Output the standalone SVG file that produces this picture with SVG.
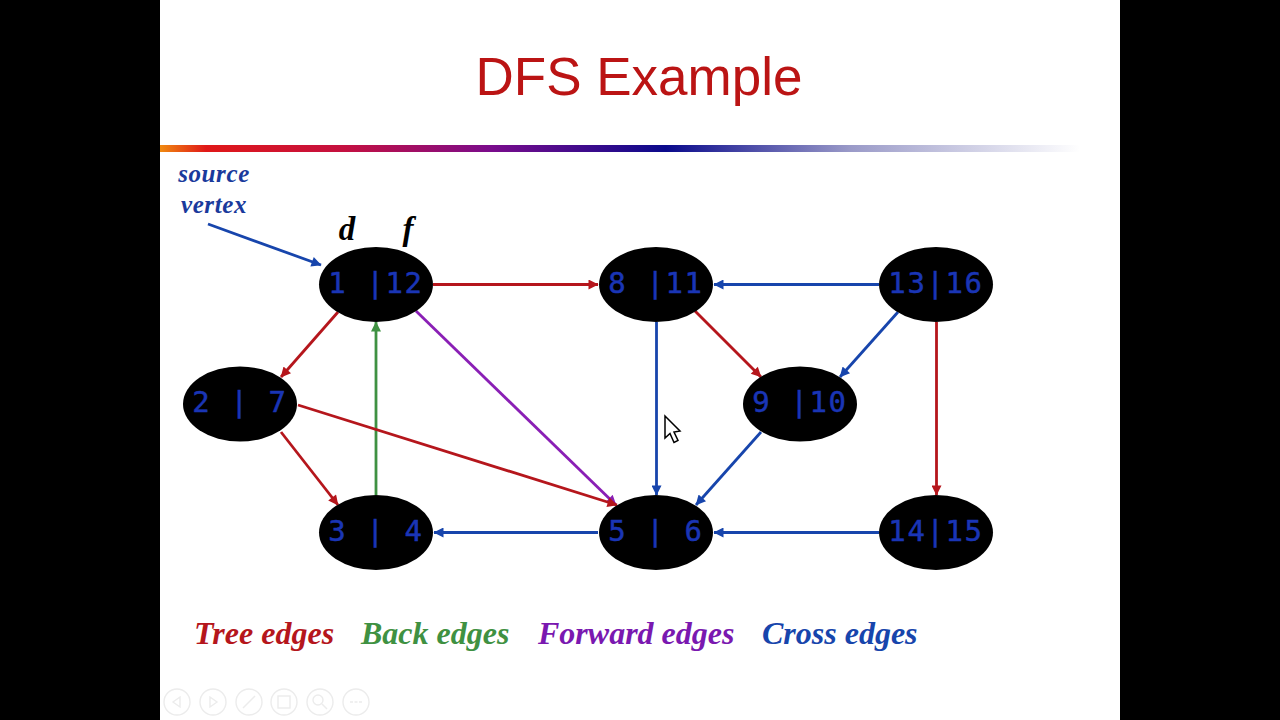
<svg xmlns="http://www.w3.org/2000/svg" width="1280" height="720" viewBox="0 0 1280 720">
<style>
.nd{fill:#000}
.nt{font-family:"DejaVu Sans Mono","Liberation Mono",monospace;font-size:29px;letter-spacing:1.6px;fill:#1a35b5;stroke:#1a35b5;stroke-width:0.5;text-anchor:middle;font-weight:400}
.lg{font-family:"Liberation Serif",serif;font-style:italic;font-weight:700;font-size:32px}
.e{fill:none;stroke-width:2.8}
.r{stroke:#b5161c}.b{stroke:#1745ac}.g{stroke:#3f9142}.p{stroke:#8a1fb5}
.ctl{fill:none;stroke:#ececec;stroke-width:1.4}
</style>
<defs>
<linearGradient id="bar" x1="0" x2="1" y1="0" y2="0">
<stop offset="0" stop-color="#f08a10"/><stop offset="0.05" stop-color="#e01818"/><stop offset="0.2" stop-color="#c41040"/><stop offset="0.36" stop-color="#7a0c8c"/><stop offset="0.55" stop-color="#0a0a8c"/><stop offset="0.75" stop-color="#9a9ac8"/><stop offset="1" stop-color="#ffffff"/>
</linearGradient>
<marker id="mr" viewBox="0 0 10 10" refX="9.5" refY="5" markerWidth="12" markerHeight="10" markerUnits="userSpaceOnUse" orient="auto"><path d="M0 0L10 5L0 10z" fill="#b5161c"/></marker>
<marker id="mb" viewBox="0 0 10 10" refX="9.5" refY="5" markerWidth="12" markerHeight="10" markerUnits="userSpaceOnUse" orient="auto"><path d="M0 0L10 5L0 10z" fill="#1745ac"/></marker>
<marker id="mg" viewBox="0 0 10 10" refX="9.5" refY="5" markerWidth="12" markerHeight="10" markerUnits="userSpaceOnUse" orient="auto"><path d="M0 0L10 5L0 10z" fill="#3f9142"/></marker>
<marker id="mp" viewBox="0 0 10 10" refX="9.5" refY="5" markerWidth="12" markerHeight="10" markerUnits="userSpaceOnUse" orient="auto"><path d="M0 0L10 5L0 10z" fill="#8a1fb5"/></marker>
</defs>
<rect width="1280" height="720" fill="#000"/>
<rect x="160" width="960" height="720" fill="#fff"/>
<text x="639" y="95" font-family="Liberation Sans, sans-serif" font-size="53" fill="#bb1414" text-anchor="middle">DFS Example</text>
<rect x="160" y="145" width="920" height="7" fill="url(#bar)"/>
<g id="connectors">
<path class="e b" marker-end="url(#mb)" d="M208 224L321 265"/>
<path class="e r" marker-end="url(#mr)" d="M433 284.500H598"/>
<path class="e r" marker-end="url(#mr)" d="M338 312L281 377"/>
<path class="e g" marker-end="url(#mg)" d="M376 495V322"/>
<path class="e p" marker-end="url(#mp)" d="M416 311L616 505"/>
<path class="e r" marker-end="url(#mr)" d="M298 405L617 505"/>
<path class="e r" marker-end="url(#mr)" d="M281 432L338 505"/>
<path class="e b" marker-end="url(#mb)" d="M598 532.500H434"/>
<path class="e b" marker-end="url(#mb)" d="M656.500 322V495"/>
<path class="e r" marker-end="url(#mr)" d="M695 311L761 377"/>
<path class="e b" marker-end="url(#mb)" d="M879 284.500H714"/>
<path class="e b" marker-end="url(#mb)" d="M898 312L840 377"/>
<path class="e r" marker-end="url(#mr)" d="M936.500 322V495"/>
<path class="e b" marker-end="url(#mb)" d="M761 432L696 505"/>
<path class="e b" marker-end="url(#mb)" d="M879 532.500H714"/>
</g>
<g font-family="Liberation Serif, serif" font-style="italic" font-weight="700" font-size="25" letter-spacing="0.6" fill="#1a3a9c" text-anchor="middle">
<text x="214" y="182">source</text>
<text x="214" y="213">vertex</text>
</g>
<g font-family="Liberation Serif, serif" font-style="italic" font-weight="700" font-size="33" fill="#000" text-anchor="middle">
<text x="347" y="240">d</text>
<text x="408" y="240">f</text>
</g>
<g id="n1"><ellipse class="nd" cx="376" cy="284.500" rx="57" ry="37.500"/><text class="nt" x="376" y="293" xml:space="preserve">1 |12</text></g>
<g id="n8"><ellipse class="nd" cx="656" cy="284.500" rx="57" ry="37.500"/><text class="nt" x="656" y="293" xml:space="preserve">8 |11</text></g>
<g id="n13"><ellipse class="nd" cx="936" cy="284.500" rx="57" ry="37.500"/><text class="nt" x="936" y="293">13|16</text></g>
<g id="n2"><ellipse class="nd" cx="240" cy="404" rx="57" ry="37.500"/><text class="nt" x="240" y="412" xml:space="preserve">2 | 7</text></g>
<g id="n9"><ellipse class="nd" cx="800" cy="404" rx="57" ry="37.500"/><text class="nt" x="800" y="412" xml:space="preserve">9 |10</text></g>
<g id="n3"><ellipse class="nd" cx="376" cy="532.500" rx="57" ry="37.500"/><text class="nt" x="376" y="541" xml:space="preserve">3 | 4</text></g>
<g id="n5"><ellipse class="nd" cx="656" cy="532.500" rx="57" ry="37.500"/><text class="nt" x="656" y="541" xml:space="preserve">5 | 6</text></g>
<g id="n14"><ellipse class="nd" cx="936" cy="532.500" rx="57" ry="37.500"/><text class="nt" x="936" y="541">14|15</text></g>
<text class="lg" x="194" y="644" fill="#b5161c">Tree edges</text>
<text class="lg" x="361" y="644" fill="#3f9142">Back edges</text>
<text class="lg" x="538" y="644" fill="#7a18b0">Forward edges</text>
<text class="lg" x="762" y="644" fill="#1745ac">Cross edges</text>
<path d="M665 416L665 438L670 433.500L674 442.500L678 440.500L674 432L680 431Z" fill="#fff" stroke="#000" stroke-width="1.500"/>
<g>
<circle class="ctl" cx="177" cy="702" r="13"/><path class="ctl" d="M180 697L173 702L180 707Z"/>
<circle class="ctl" cx="213" cy="702" r="13"/><path class="ctl" d="M210 697L217 702L210 707Z"/>
<circle class="ctl" cx="249" cy="702" r="13"/><path class="ctl" d="M243 708L255 696"/>
<circle class="ctl" cx="284" cy="702" r="13"/><rect class="ctl" x="278" y="696" width="12" height="12"/>
<circle class="ctl" cx="320" cy="702" r="13"/><circle class="ctl" cx="318" cy="700" r="5"/><path class="ctl" d="M322 704L327 709"/>
<circle class="ctl" cx="356" cy="702" r="13"/><path class="ctl" d="M350 702H362" stroke-dasharray="3 1.500"/>
</g>
</svg>
